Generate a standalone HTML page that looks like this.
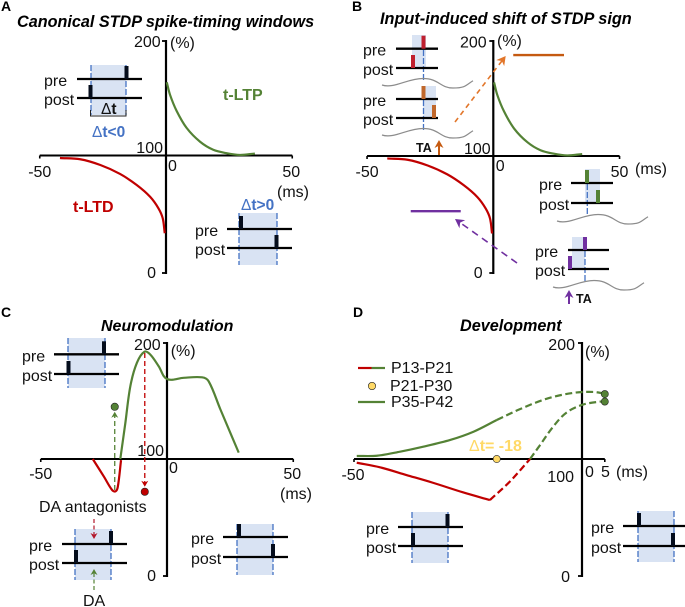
<!DOCTYPE html>
<html lang="en">
<head>
<meta charset="utf-8">
<title>STDP timing windows</title>
<style>
html,body{margin:0;padding:0;background:#fff;}
svg{display:block;font-family:"Liberation Sans",Arial,sans-serif;}
</style>
</head>
<body>
<svg id="fig" width="685" height="607" viewBox="0 0 685 607" xmlns="http://www.w3.org/2000/svg"></svg>
<script>
// ---- Chart data (timing in ms, synaptic weight in %) ----
const xTicksAC = [-50, 50];
const yTicks = [200, 100, 0];
const ltpT = [0.3, 1.6, 4.2, 8.2, 13.5, 18.7, 24, 29.3, 35.2];
const ltpW = [164, 153, 139, 124, 112, 105, 102, 100.5, 101.7];
const ltdT = [-42, -34, -26, -18.2, -11.6, -6.3, -3, -1.3, -0.5];
const ltdW = [97.9, 96.8, 91.9, 84.3, 74.9, 64.9, 55.1, 46.6, 33.8];
const shiftUpT = [7.9, 28];
const shiftUpW = [187.8, 187.8];
const shiftDownT = [-32.7, -12.9];
const shiftDownW = [52.8, 52.8];
const nmGreenT = [-18.5, -16.5, -14.5, -11.9, -8.9, -6.6, -3.3, 0, 6.6, 13.9, 16.5, 21.1, 28.4];
const nmGreenW = [100, 131, 163, 183, 192.5, 190, 180, 169, 170, 170.4, 167, 143, 105.5];
const nmRedT = [-29.4, -25, -21.8, -20.4, -19.5, -18.2];
const nmRedW = [100, 85, 73.7, 72.3, 76, 99];
const nmDotGreen = [-20.7, 145];
const nmDotRed = [-8.8, 72];
const devGreenT = [-49.4, -45, -39.9, -34.8, -28.9, -23.8, -18.7];
const devGreenW = [102.6, 102.8, 106.3, 110.6, 116.4, 123.5, 133.6];
const devGreenDash1T = [-18.7, -13.6, -7.7, -1.9, 2.5, 5];
const devGreenDash1W = [133.6, 143, 152, 157, 157.8, 156.3];
const devGreenDash2T = [-11.4, -9.2, -6.3, -3.4, 0.3, 5];
const devGreenDash2W = [100, 112, 128, 140, 147, 150];
const devRedT = [-49.4, -44.3, -38.5, -32.7, -26.1, -20.2];
const devRedW = [96.8, 92.9, 86.3, 79.7, 71.5, 64.9];
const devRedDashT = [-20.2, -15.8, -11.4];
const devRedDashW = [64.9, 80.8, 100];
const devYellowDot = [-18.7, 100];
const devGreenDots = [[5, 156], [5, 149.5]];

// ---- Colours ----
const GREEN = '#548235', RED = '#c00000', BLUE = '#4472c4', BAND = '#d9e3f3',
      ORANGE = '#e2762a', DORANGE = '#c55a11', PURPLE = '#7030a0', YELLOW = '#ffd966', BROWN = '#c0682c';

const NS = 'http://www.w3.org/2000/svg';
const svg = document.getElementById('fig');

function mk(tag, attrs, name, parent) {
  const e = document.createElementNS(NS, tag);
  for (const k in attrs) e.setAttribute(k, attrs[k]);
  
  
  (parent || svg).appendChild(e);
  return e;
}
function txt(s, x, y, o, name) {
  o = o || {};
  const t = mk('text', {
    x: x, y: y, 'font-size': o.size || 16, fill: o.fill || '#111',
    'text-anchor': o.anchor || 'start',
    'font-weight': o.weight || 'normal', 'font-style': o.style || 'normal'
  }, name);
  t.textContent = s;
  return t;
}
// Label with a light-weight delta followed by bold text
function deltaTxt(rest, x, y, o, name) {
  const t = txt('', x, y, o, name);
  const d = mk('tspan', {'font-weight': 'normal'}, name + '-delta', t);
  d.textContent = 'Δ';
  const r = mk('tspan', {'font-weight': 'bold'}, name + '-text', t);
  r.textContent = rest;
  return t;
}
function line(x1, y1, x2, y2, stroke, w, name, dash) {
  const a = {x1: x1, y1: y1, x2: x2, y2: y2, stroke: stroke, 'stroke-width': w};
  if (dash) a['stroke-dasharray'] = dash;
  return mk('line', a, name);
}
function panel(x0, pxPerMs, y200, y100, y0) {
  return {
    sx: function (t) { return x0 + t * pxPerMs; },
    sy: function (v) {
      return v >= 100 ? y100 - (v - 100) * (y100 - y200) / 100
                      : y100 + (100 - v) * (y0 - y100) / 100;
    }
  };
}
function curvePath(p, ts, ws) {
  const pts = ts.map(function (t, i) { return [p.sx(t), p.sy(ws[i])]; });
  const n = pts.length;
  // unit tangents at each point, handles scaled to the local segment length
  const tang = pts.map(function (b, i) {
    const a = pts[Math.max(i - 1, 0)], c = pts[Math.min(i + 1, n - 1)];
    const dx = c[0] - a[0], dy = c[1] - a[1], l = Math.hypot(dx, dy) || 1;
    return [dx / l, dy / l];
  });
  let d = 'M' + pts[0][0].toFixed(2) + ',' + pts[0][1].toFixed(2);
  for (let i = 0; i < n - 1; i++) {
    const b = pts[i], c = pts[i + 1], L = Math.hypot(c[0] - b[0], c[1] - b[1]) / 3;
    d += ' C' + (b[0] + tang[i][0] * L).toFixed(2) + ',' + (b[1] + tang[i][1] * L).toFixed(2) +
         ' ' + (c[0] - tang[i + 1][0] * L).toFixed(2) + ',' + (c[1] - tang[i + 1][1] * L).toFixed(2) +
         ' ' + c[0].toFixed(2) + ',' + c[1].toFixed(2);
  }
  return d;
}
function curve(p, ts, ws, color, name, dash, width) {
  const a = {d: curvePath(p, ts, ws), fill: 'none', stroke: color, 'stroke-width': width || 2.2};
  if (dash) a['stroke-dasharray'] = dash;
  return mk('path', a, name);
}
function dot(p, pair, r, fill, name) {
  return mk('circle', {cx: p.sx(pair[0]), cy: p.sy(pair[1]), r: r, fill: fill, stroke: '#222', 'stroke-width': 0.6}, name);
}
function axes(p, tMin, tMax, prefix) {
  const x0 = p.sx(0);
  line(p.sx(tMin), p.sy(100), p.sx(tMax), p.sy(100), '#000', 2, prefix + '-x-axis');
  line(x0, p.sy(200) - 1, x0, p.sy(0) + 1, '#000', 2.2, prefix + '-y-axis');
  line(x0 - 4, p.sy(200), x0, p.sy(200), '#000', 1.8, prefix + '-y-tick-200');
  line(x0 - 4, p.sy(0), x0, p.sy(0), '#000', 1.8, prefix + '-y-tick-0');
  line(p.sx(tMin), p.sy(100), p.sx(tMin), p.sy(100) + 3, '#000', 1.6, prefix + '-x-tick-min');
  line(p.sx(tMax), p.sy(100), p.sx(tMax), p.sy(100) + 3, '#000', 1.6, prefix + '-x-tick-max');
}
function arrow(x1, y1, x2, y2, color, w, dash, name, headL, headW) {
  const ang = Math.atan2(y2 - y1, x2 - x1), L = headL || 7, W = headW || 4;
  const cx = x2 - Math.cos(ang) * L * 0.7, cy = y2 - Math.sin(ang) * L * 0.7;
  line(x1, y1, cx, cy, color, w, name + '-line', dash);
  const bx = x2 - Math.cos(ang) * L, by = y2 - Math.sin(ang) * L;
  const nx = -Math.sin(ang), ny = Math.cos(ang);
  mk('polygon', {
    points: [x2 + ',' + y2, (bx + nx * W) + ',' + (by + ny * W), cx + ',' + cy, (bx - nx * W) + ',' + (by - ny * W)].join(' '),
    fill: color
  }, name + '-head');
}
function wave(x, y, name) {
  mk('path', {
    d: 'M' + x + ',' + (y + 2) + ' c12,4 25,-6.5 41,-6.5 s17,9.5 30,9.5 s13,-3 20,-7.3',
    fill: 'none', stroke: '#8c8c8c', 'stroke-width': 1.2
  }, name);
}
// Timing-protocol inset: pre/post spike trains on a shaded window
function inset(o) {
  const n = o.name;
  mk('rect', {x: o.b0, y: o.bt, width: o.b1 - o.b0, height: o.bb - o.bt, fill: BAND}, n + '-window');
  if (o.d0 !== undefined) {
    (o.dx || [o.b0, o.b1]).forEach(function (dx, i) {
      line(dx, o.d0, dx, o.d1, BLUE, 1.3, n + '-timing-marker-' + i, '6 2');
    });
  }
  line(o.l0, o.pre, o.l1, o.pre, '#000', 2.3, n + '-pre-line');
  line(o.l0, o.post, o.l1, o.post, '#000', 2.3, n + '-post-line');
  const c1 = o.c1 || '#050d1c', c2 = o.c2 || c1, sh = o.h || 13;
  mk('rect', {x: o.s1 - 2, y: o.pre - sh, width: 4, height: sh, fill: c1}, n + '-pre-spike');
  mk('rect', {x: o.s2 - 2, y: o.post - sh, width: 4, height: sh, fill: c2}, n + '-post-spike');
  txt('pre', o.lx, o.pre + 7, {}, n + '-pre-label');
  txt('post', o.lx, o.post + 7, {}, n + '-post-label');
}

// ---- Panel letters and titles ----
[['A', 1, 11], ['B', 352, 11], ['C', 1, 317], ['D', 353, 317]].forEach(function (a) {
  txt(a[0], a[1], a[2], {size: 14, weight: 'bold', fill: '#000'}, 'panel-letter-' + a[0].toLowerCase());
});
txt('Canonical STDP spike-timing windows', 17, 27, {size: 16.2, weight: 'bold', style: 'italic', fill: '#000'}, 'panel-a-title');
txt('Input-induced shift of STDP sign', 380, 24, {size: 16.3, weight: 'bold', style: 'italic', fill: '#000'}, 'panel-b-title');
txt('Neuromodulation', 101, 331, {size: 16, weight: 'bold', style: 'italic', fill: '#000'}, 'panel-c-title');
txt('Development', 460, 331, {size: 16.2, weight: 'bold', style: 'italic', fill: '#000'}, 'panel-d-title');

// ---- Panel A ----
const pA = panel(166, 2.525, 41, 155.5, 273);
inset({name: 'a-inset-negative', l0: 77, l1: 142, pre: 79, post: 98, b0: 91, b1: 126, bt: 65, bb: 115, d0: 65, d1: 115, s1: 126.5, s2: 90.5, lx: 44});
axes(pA, -50, 50, 'a');
curve(pA, ltpT, ltpW, GREEN, 'a-tltp-curve');
curve(pA, ltdT, ltdW, RED, 'a-tltd-curve');
txt(yTicks[0], 160.7, 47, {anchor: 'end'}, 'a-y-label-200');
txt(yTicks[1], 163, 153, {anchor: 'end'}, 'a-y-label-100');
txt(yTicks[2], 156, 278, {anchor: 'end'}, 'a-y-label-0');
txt('(%)', 170, 48, {}, 'a-y-unit');
txt('0', 168, 171, {}, 'a-x-label-0');
txt(xTicksAC[0], pA.sx(-50), 177, {anchor: 'middle'}, 'a-x-label-min');
txt(xTicksAC[1], pA.sx(50) - 1, 177, {anchor: 'middle'}, 'a-x-label-max');
txt('(ms)', 277, 197, {}, 'a-x-unit');
txt('t-LTP', 223, 100, {weight: 'bold', fill: GREEN}, 'a-tltp-label');
txt('t-LTD', 73, 212, {weight: 'bold', fill: RED}, 'a-tltd-label');
mk('path', {d: 'M90.5,110 V116 H126 V110', fill: 'none', stroke: '#222', 'stroke-width': 1}, 'a-delta-bracket');
deltaTxt('t', 101, 114, {size: 15.5}, 'a-delta-label');
deltaTxt('t<0', 92, 137, {size: 15.5, fill: BLUE}, 'a-negative-label');
deltaTxt('t>0', 241, 210, {size: 15.5, fill: BLUE}, 'a-positive-label');
inset({name: 'a-inset-positive', l0: 227, l1: 292, pre: 229, post: 248, b0: 239, b1: 277, bt: 213, bb: 265, d0: 213, d1: 265, s1: 241, s2: 276.5, lx: 195});

// ---- Panel B ----
const pB = panel(493.3, 2.525, 41, 156, 273);
inset({name: 'b-inset-1', l0: 396, l1: 438, pre: 48.7, post: 68, b0: 412, b1: 426, bt: 35, bb: 68, d0: 50, d1: 80, dx: [423.5], s1: 423.5, s2: 413, c1: '#c0202f', lx: 363});
wave(382, 83, 'b-wave-1');
inset({name: 'b-inset-2', l0: 396, l1: 438, pre: 99, post: 118, b0: 423, b1: 436, bt: 86, bb: 118, d0: 100, d1: 130, dx: [423.5], s1: 423.5, s2: 434, c1: BROWN, lx: 363});
wave(382, 133, 'b-wave-2');
axes(pB, -50, 50, 'b');
curve(pB, ltpT, ltpW, GREEN, 'b-tltp-curve');
curve(pB, ltdT, ltdW, RED, 'b-tltd-curve');
curve(pB, shiftUpT, shiftUpW, DORANGE, 'b-shifted-ltp-segment', null, 2.4);
curve(pB, shiftDownT, shiftDownW, PURPLE, 'b-shifted-ltd-segment', null, 2.4);
arrow(455, 122, 505.7, 56, ORANGE, 1.6, '5 4', 'b-orange-arrow', 9, 5);
arrow(517, 263, 455, 219, PURPLE, 1.6, '7 5', 'b-purple-arrow', 9, 5);
arrow(439, 155, 439, 140, DORANGE, 2, null, 'b-ta-arrow-top', 8, 4.5);
txt('TA', 416, 152, {size: 12.5, weight: 'bold'}, 'b-ta-label-top');
txt(yTicks[0], 486.7, 47.5, {anchor: 'end'}, 'b-y-label-200');
txt(yTicks[1], 490.7, 154, {anchor: 'end'}, 'b-y-label-100');
txt(yTicks[2], 482.7, 278, {anchor: 'end'}, 'b-y-label-0');
txt('(%)', 497, 46, {}, 'b-y-unit');
txt('0', 495.7, 171, {}, 'b-x-label-0');
txt(xTicksAC[0], pB.sx(-50), 177, {anchor: 'middle'}, 'b-x-label-min');
txt(xTicksAC[1], pB.sx(50), 177, {anchor: 'middle'}, 'b-x-label-max');
txt('(ms)', 635, 174, {}, 'b-x-unit');
inset({name: 'b-inset-3', l0: 571, l1: 613, pre: 183, post: 203, b0: 585, b1: 600, bt: 169, bb: 203, d0: 184, d1: 216, dx: [587.3], s1: 587, s2: 598, c1: GREEN, lx: 539});
wave(557, 219, 'b-wave-3');
inset({name: 'b-inset-4', l0: 568, l1: 609, pre: 250, post: 269, b0: 572, b1: 585, bt: 237, bb: 269, d0: 251, d1: 283, dx: [585], s1: 585, s2: 570, c1: PURPLE, lx: 535});
wave(553, 285, 'b-wave-4');
arrow(569, 304, 569, 290, PURPLE, 2, null, 'b-ta-arrow-bottom', 8, 4.5);
txt('TA', 576, 303, {size: 12.5, weight: 'bold'}, 'b-ta-label-bottom');

// ---- Panel C ----
const pC = panel(167, 2.525, 343, 459, 576);
inset({name: 'c-inset-top', l0: 54, l1: 119, pre: 354.3, post: 374, b0: 68, b1: 105, bt: 338, bb: 388, d0: 338, d1: 388, s1: 104, s2: 68.5, lx: 22});
axes(pC, -50, 50, 'c');
curve(pC, nmRedT, nmRedW, RED, 'c-ltd-curve');
curve(pC, nmGreenT, nmGreenW, GREEN, 'c-ltp-curve');
arrow(pC.sx(nmDotGreen[0]), 490, pC.sx(nmDotGreen[0]), pC.sy(nmDotGreen[1]) + 5, GREEN, 1.3, '5 3', 'c-da-green-arrow', 6, 3.5);
arrow(pC.sx(nmDotRed[0]), 353, pC.sx(nmDotRed[0]), pC.sy(nmDotRed[1]) - 5, RED, 1.3, '5 3', 'c-antagonist-red-arrow', 6, 3.5);
dot(pC, nmDotGreen, 3.7, GREEN, 'c-da-point');
dot(pC, nmDotRed, 3.7, RED, 'c-antagonist-point');
txt(yTicks[0], 160.7, 350, {anchor: 'end'}, 'c-y-label-200');
txt(yTicks[1], 164, 456, {anchor: 'end'}, 'c-y-label-100');
txt(yTicks[2], 156, 581, {anchor: 'end'}, 'c-y-label-0');
txt('(%)', 170.7, 356, {}, 'c-y-unit');
txt('0', 169, 473, {}, 'c-x-label-0');
txt(xTicksAC[0], pC.sx(-50), 479, {anchor: 'middle'}, 'c-x-label-min');
txt(xTicksAC[1], pC.sx(50) - 1, 479, {anchor: 'middle'}, 'c-x-label-max');
txt('(ms)', 280, 499, {}, 'c-x-unit');
txt('DA antagonists', 39, 512, {}, 'c-da-antagonists-label');
inset({name: 'c-inset-da', l0: 62, l1: 127, pre: 544, post: 563, b0: 75, b1: 111, bt: 529, bb: 580, d0: 529, d1: 580, s1: 111, s2: 76, lx: 29});
arrow(94, 519, 94, 539, '#b2182b', 1.2, '4 2.5', 'c-antagonist-small-arrow', 6, 3.5);
arrow(94, 590, 94, 569, GREEN, 1.2, '4 2.5', 'c-da-small-arrow', 6, 3.5);
txt('DA', 83, 606, {}, 'c-da-label');
inset({name: 'c-inset-right', l0: 223, l1: 288, pre: 537, post: 557, b0: 237, b1: 273, bt: 524, bb: 575, d0: 524, d1: 575, s1: 239, s2: 273, lx: 191});

// ---- Panel D ----
const pD = panel(582, 4.56, 343, 459, 576);
axes(pD, -50, 5, 'd');
curve(pD, devGreenT, devGreenW, GREEN, 'd-p35-curve');
curve(pD, devGreenDash1T, devGreenDash1W, GREEN, 'd-p35-extrapolated-upper', '7 3.5');
curve(pD, devGreenDash2T, devGreenDash2W, GREEN, 'd-p13-extrapolated-ltp', '7 3.5');
curve(pD, devRedT, devRedW, RED, 'd-p13-curve');
curve(pD, devRedDashT, devRedDashW, RED, 'd-p13-extrapolated-ltd', '7 3.5');
dot(pD, devYellowDot, 3.6, YELLOW, 'd-p21-point');
devGreenDots.forEach(function (d, i) { dot(pD, d, 3.6, GREEN, 'd-endpoint-' + i); });
deltaTxt('t= -18', 469, 451, {fill: YELLOW}, 'd-delta-label');
txt(yTicks[0], 575, 350, {anchor: 'end'}, 'd-y-label-200');
txt(yTicks[1], 574, 482, {anchor: 'end'}, 'd-y-label-100');
txt(yTicks[2], 570, 582, {anchor: 'end'}, 'd-y-label-0');
txt('(%)', 585, 357, {}, 'd-y-unit');
txt('0', 585, 477, {}, 'd-x-label-0');
txt('5', 601, 477, {}, 'd-x-label-5');
txt('(ms)', 616, 477, {}, 'd-x-unit');
txt('-50', 353, 480, {anchor: 'middle'}, 'd-x-label-min');
line(358, 368, 371.5, 368, RED, 2.2, 'd-legend-p13-red');
line(371.5, 368, 385, 368, GREEN, 2.2, 'd-legend-p13-green');
txt('P13-P21', 391, 373, {}, 'd-legend-p13-label');
mk('circle', {cx: 372, cy: 386, r: 3.7, fill: YELLOW, stroke: '#222', 'stroke-width': 0.6}, 'd-legend-p21-dot');
txt('P21-P30', 390, 391, {}, 'd-legend-p21-label');
line(358, 402, 385, 402, GREEN, 2.2, 'd-legend-p35-line');
txt('P35-P42', 391, 407, {}, 'd-legend-p35-label');
inset({name: 'd-inset-left', l0: 398, l1: 463, pre: 527, post: 546, b0: 412, b1: 448, bt: 512, bb: 563, d0: 512, d1: 563, s1: 447.5, s2: 413, lx: 366});
inset({name: 'd-inset-right', l0: 623, l1: 685, pre: 526, post: 546, b0: 638, b1: 674, bt: 511, bb: 562, d0: 511, d1: 562, s1: 639, s2: 673, lx: 591});
</script>
</body>
</html>
